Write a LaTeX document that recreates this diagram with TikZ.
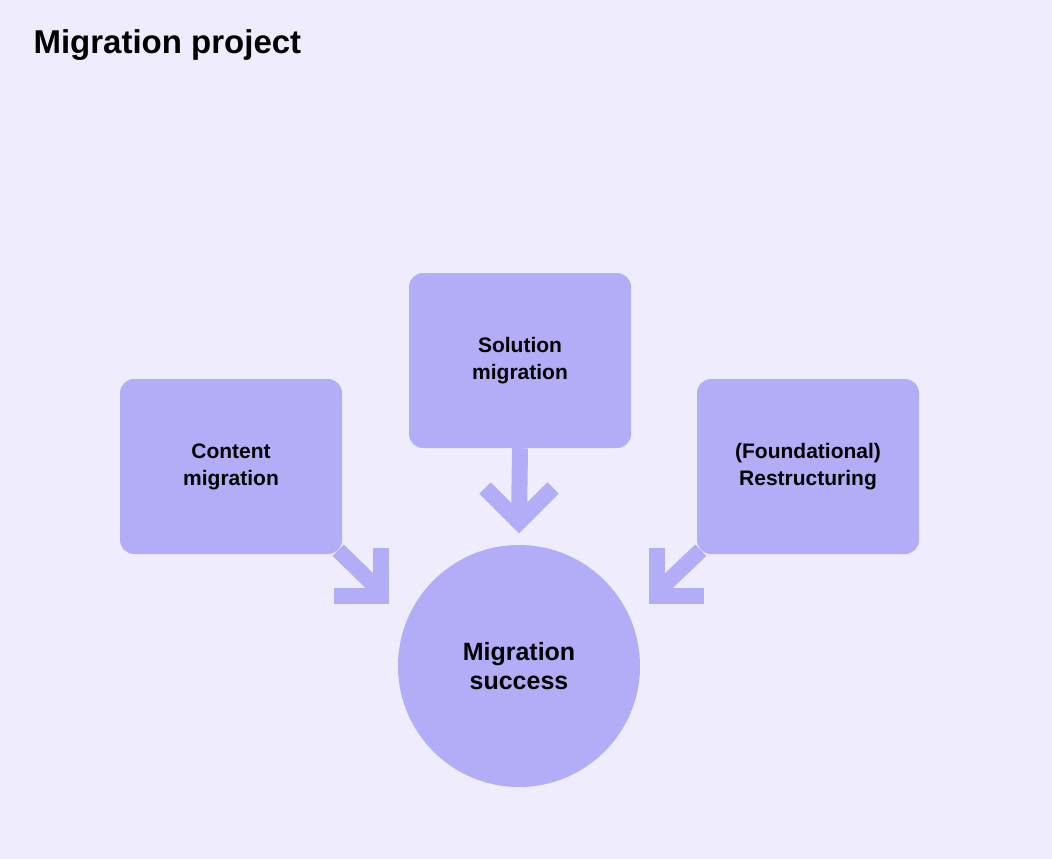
\documentclass[tikz,border=0pt]{standalone}
\usepackage{fontspec}
\setmainfont{Liberation Sans}
\definecolor{bg}{HTML}{EFECFD}
\definecolor{box}{HTML}{B3ADF8}
\begin{document}
\begin{tikzpicture}[x=1pt,y=-1pt,
  boxst/.style={fill=box,rounded corners=14pt,minimum width=222pt,minimum height=175pt,align=center,font=\bfseries\fontsize{21}{27}\selectfont},
  arr/.style={draw=box,line width=16pt,miter limit=10}]
\fill[bg] (0,0) rectangle (1052,859);
\useasboundingbox (0,0) rectangle (1052,859);
\node[anchor=west,font=\bfseries\fontsize{33}{40}\selectfont] (title) at (30,45) {Migration project};
\node[boxst] (content) at (231,466.5) {Content\\migration};
\node[boxst] (solution) at (520,360.5) {Solution\\migration};
\node[boxst] (restr) at (808,466.5) {(Foundational)\\Restructuring};
\node[circle,fill=box,minimum size=242pt,align=center,font=\bfseries\fontsize{25}{29}\selectfont] (succ) at (519,666) {Migration\\success};
% middle arrow
\draw[arr] (solution.south) -- (519,522);
\draw[arr] (485,488) -- (519,522) -- (553,488);
% left arrow
\draw[arr] (content.south east) ++(-4,-4) -- (381,592);
\draw[arr] (334,596) -- (381,596) -- (381,548);
% right arrow
\draw[arr] (restr.south west) ++(4,-4) -- (657,592);
\draw[arr] (704,596) -- (657,596) -- (657,548);
\end{tikzpicture}
\end{document}
